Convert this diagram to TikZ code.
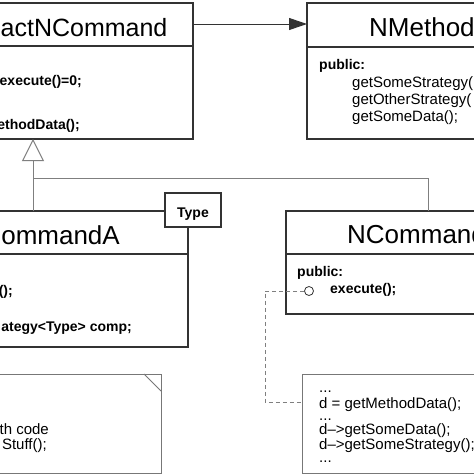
\documentclass[tikz,border=0pt]{standalone}
\usepackage{fontspec}
\setmainfont{Liberation Sans}
\usetikzlibrary{arrows.meta}
\definecolor{boxc}{HTML}{333333}
\definecolor{linec}{HTML}{7F7F7F}
\definecolor{notec}{HTML}{777777}
\begin{document}
\begin{tikzpicture}[x=1pt,y=-1pt,
  box/.style={draw=boxc, line width=1.1pt, inner sep=0pt, outer sep=0pt},
  sepline/.style={draw=boxc, line width=1.1pt},
  title/.style={inner sep=0pt, font=\fontsize{26}{30}\selectfont, text=black},
  code/.style={inner sep=0pt, font=\fontsize{14}{16}\selectfont\bfseries, text=black},
  plain/.style={inner sep=0pt, font=\fontsize{15}{17}\selectfont, text=black},
  tight/.style={plain, text height=9pt, text depth=2pt},
  inh/.style={draw=linec, line width=1pt},
  notebox/.style={draw=notec, line width=1pt, inner sep=0pt, outer sep=0pt},
  dep/.style={draw=linec, line width=1pt, dash pattern=on 4pt off 3pt},
]
\useasboundingbox (0,0) rectangle (474,474);
\clip (0,0) rectangle (474,474);
\fill[white] (0,0) rectangle (474,474);

% AbstractNCommand
\node[box, minimum width=360pt, minimum height=136pt, anchor=north east] (abs) at (193,3) {};
\draw[sepline] (-170,46) -- (193,46);
\node[title, font=\fontsize{25}{30}\selectfont, anchor=base west] (absT) at (0.5,36) {actNCommand};
\node[code, anchor=base east] (absE) at (82,85) {execute()=0;};
\node[code, anchor=base east] (absG) at (80,129) {ethodData();};

% NMethodData
\node[box, minimum width=313pt, minimum height=136pt, anchor=north west] (nmd) at (307,3) {};
\draw[sepline] (307,47) -- (620,47);
\node[title, anchor=base west] (nmdT) at (369,36) {NMethod};
\node[code, anchor=base west] (nmdP) at (319,69) {public:};
\node[plain, anchor=base west] (nmd1) at (352,87) {getSomeStrategy(};
\node[plain, anchor=base west] (nmd2) at (352,104) {getOtherStrategy(};
\node[plain, anchor=base west] (nmd3) at (352,121) {getSomeData();};

% association arrow
\draw[draw=boxc, line width=1pt, -{Triangle[length=18pt,width=12pt]}]
  ([yshift=-21pt]abs.north east) -- ([yshift=-21pt]nmd.north west);

% NCommandA
\node[box, minimum width=358pt, minimum height=136pt, anchor=north east] (ncA) at (188,211) {};
\draw[sepline] (-170,254) -- (188,254);
\node[title, anchor=base east] (ncaT) at (120,244) {ommandA};
\node[code, anchor=base east] (ncaE) at (13,295) {();};
\node[code, anchor=base east] (ncaS) at (132,331) {ategy<Type> comp;};
\node[box, fill=white, minimum width=56pt, minimum height=34pt] (typ) at (193,210) {};
\node[code, anchor=base] (typT) at (193,217) {Type};

% NCommand
\node[box, minimum width=280pt, minimum height=103pt, anchor=north west] (nc) at (286,211) {};
\draw[sepline] (286,254) -- (566,254);
\node[title, anchor=base west] (ncT) at (347,243) {NCommand};
\node[code, anchor=base west] (ncP) at (297,276) {public:};
\node[code, anchor=base west] (ncE) at (330,293) {execute();};
\node[circle, draw=boxc, line width=0.8pt, minimum size=9pt, inner sep=0pt, fill=white] (iface) at (309,291) {};

% inheritance
\coordinate (apex) at (33,139);
\coordinate (aTop) at (33,211);
\coordinate (br) at (33,178);
\coordinate (ncTop) at (428,211);
\draw[inh] (br) -| (ncTop);
\draw[inh, -{Triangle[length=22pt,width=22pt,fill=white]}] (aTop) -- (apex);

% notes
\node[notebox, minimum width=200pt, minimum height=99pt, anchor=north east] (note1) at (161,374) {};
\draw[notec, line width=1pt] ([xshift=-17pt]note1.north east) -- ([yshift=-17pt]note1.north east);
\node[tight, anchor=base east] (n1a) at (49,434) {th code};
\node[tight, anchor=base east] (n1b) at (47,449) {Stuff();};

\node[notebox, minimum width=250pt, minimum height=99pt, anchor=north west] (note2) at (302,374) {};
\node[tight, anchor=base west] (n2a) at (319,392) {...};
\node[tight, anchor=base west] (n2b) at (319,408) {d = getMethodData();};
\node[tight, anchor=base west] (n2c) at (319,420) {...};
\node[tight, anchor=base west] (n2d) at (319,434) {d–>getSomeData();};
\node[tight, anchor=base west] (n2e) at (319,449) {d–>getSomeStrategy();};
\node[tight, anchor=base west] (n2f) at (319,462) {...};

% dependency
\coordinate (d1) at (265,291);
\coordinate (d2) at (265,402);
\draw[dep] (iface.west) -- (d1) -- (d2) -- (d2 -| note2.west);
\end{tikzpicture}
\end{document}
